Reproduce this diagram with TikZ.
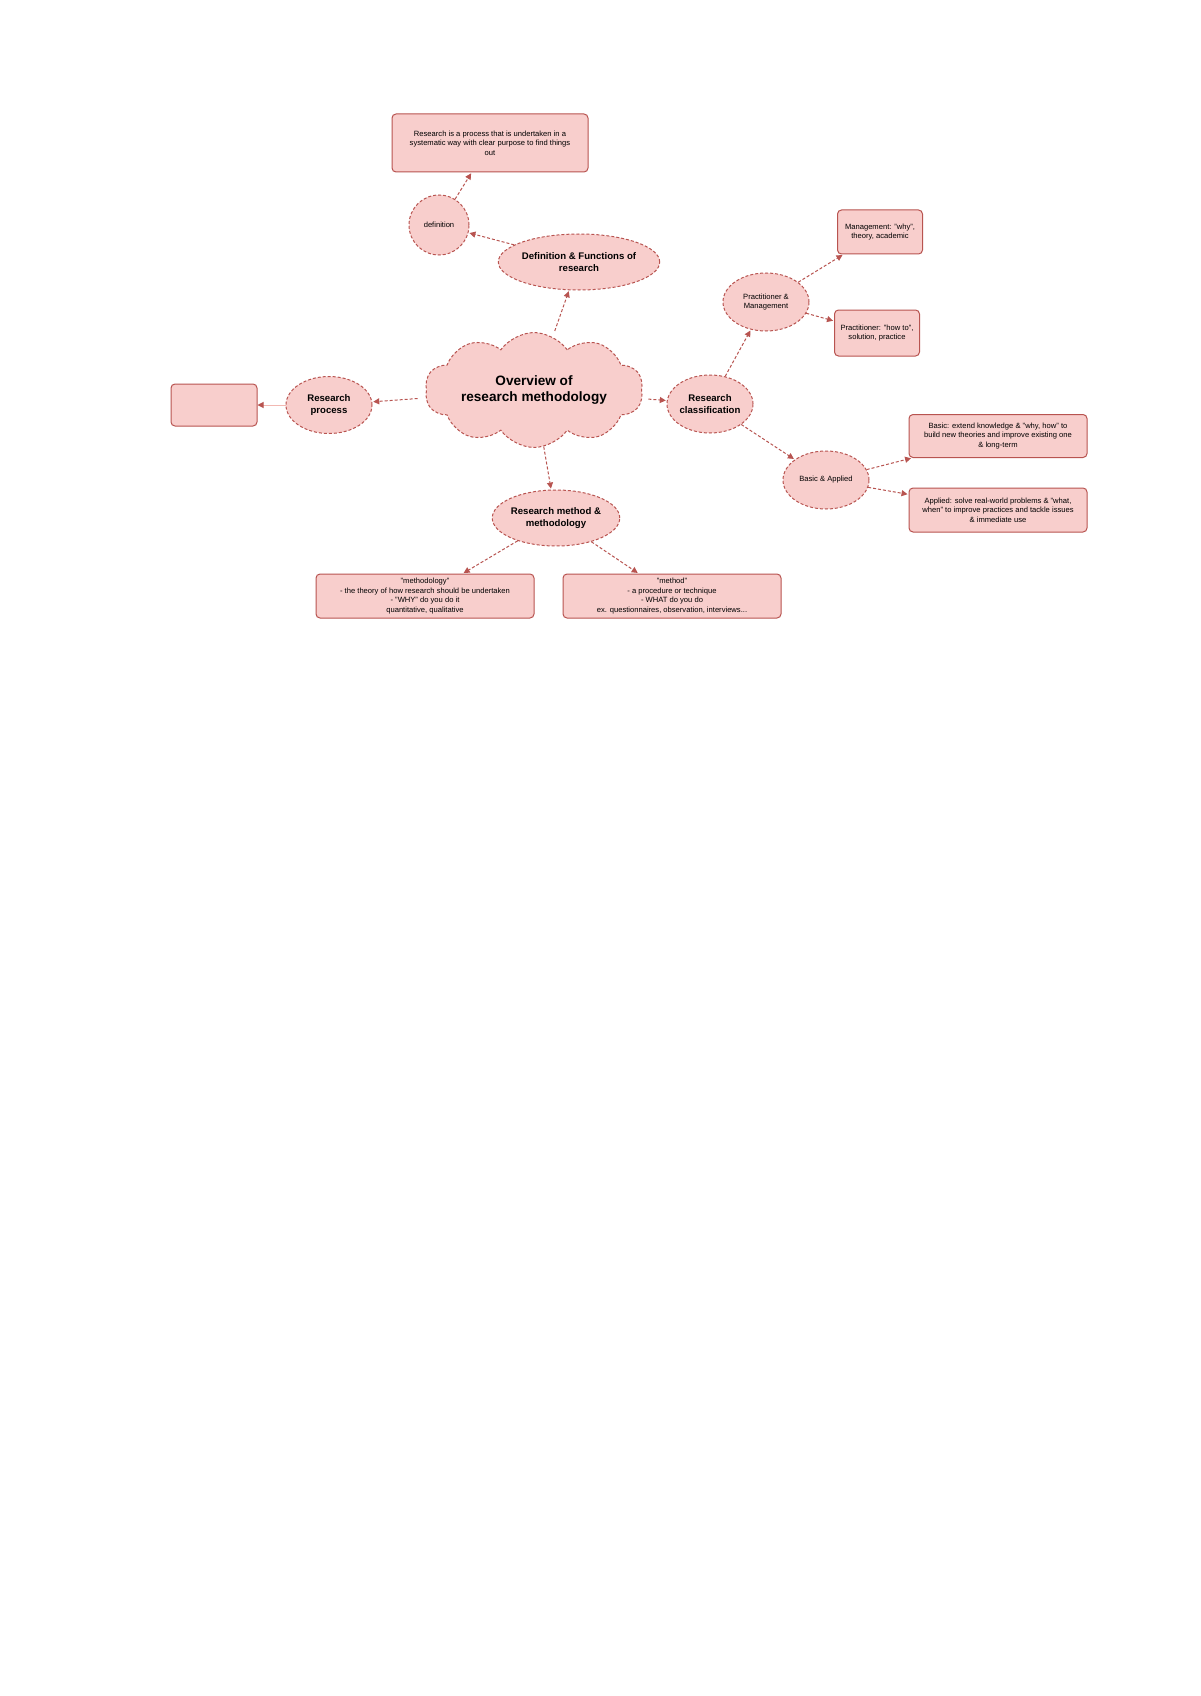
\documentclass[tikz,border=0pt]{standalone}
\usepackage{fontspec}
\setmainfont{Liberation Sans}
\usetikzlibrary{shapes.geometric,shapes.symbols,arrows.meta}
\definecolor{rfill}{HTML}{F8CECC}
\definecolor{rline}{HTML}{B85450}
\definecolor{rfaint}{HTML}{F2B8B2}
\begin{document}
\begin{tikzpicture}[x=0.5pt,y=-0.5pt,
 box/.style={draw=rline,fill=rfill,rounded corners=2pt,line width=0.5pt,align=center,inner sep=1pt,font=\fontsize{3.8}{4.7}\selectfont},
 oval/.style={ellipse,draw=rline,fill=rfill,dash pattern=on 1.5pt off 1pt,line width=0.5pt,align=center,inner sep=0pt},
 bigl/.style={font=\bfseries\fontsize{4.8}{5.9}\selectfont},
 smalll/.style={font=\fontsize{3.8}{4.7}\selectfont},
 link/.style={draw=rline,line width=0.5pt,dash pattern=on 1.5pt off 1pt,-{Triangle[width=3pt,length=3pt]},shorten >=0.5pt},
 faintlink/.style={draw=rfaint,line width=0.5pt,-{Triangle[width=3pt,length=3pt,color=rline]}}
]
\path[use as bounding box,fill=white] (0,0) rectangle (1200,1696);

% nodes
\node[box,minimum width=98pt,minimum height=29pt] (defbox) at (490,143)
  {Research is a process that is undertaken in a\\ systematic way with clear purpose to find things\\ out};
\node[oval,circle,smalll,minimum size=30pt] (defn) at (439,225) {definition};
\node[oval,bigl,minimum width=79pt,minimum height=28pt] (deffun) at (579,262) {Definition \& Functions of\\ research};
\node[cloud,cloud puffs=10,cloud puff arc=110,aspect=2.4,draw=rline,fill=rfill,dash pattern=on 1.5pt off 1pt,line width=0.5pt,
  align=center,inner sep=0pt,minimum width=109pt,minimum height=45pt,font=\bfseries\fontsize{6.8}{8.4}\selectfont] (cloud) at (534,390)
  {Overview of\\ research methodology};
\node[oval,bigl,minimum width=43pt,minimum height=28.5pt] (proc) at (329,405) {Research\\ process};
\node[box,minimum width=43pt,minimum height=21pt] (empty) at (214,405) {};
\node[oval,bigl,minimum width=43pt,minimum height=29pt] (cls) at (710,404) {Research\\ classification};
\node[oval,smalll,minimum width=43pt,minimum height=29pt] (pm) at (766,302) {Practitioner \&\\ Management};
\node[box,minimum width=42.5pt,minimum height=22pt] (mgmt) at (880,232) {Management: "why",\\ theory, academic};
\node[box,minimum width=42.5pt,minimum height=23pt] (prac) at (877,333) {Practitioner: "how to",\\ solution, practice};
\node[oval,smalll,minimum width=43pt,minimum height=29pt] (ba) at (826,480) {Basic \& Applied};
\node[box,minimum width=89pt,minimum height=21.5pt] (basic) at (998,436)
  {Basic: extend knowledge \& "why, how" to\\ build new theories and improve existing one\\ \& long-term};
\node[box,minimum width=89pt,minimum height=22pt] (appl) at (998,510)
  {Applied: solve real-world problems \& "what,\\ when" to improve practices and tackle issues\\ \& immediate use};
\node[oval,bigl,minimum width=54pt,minimum height=28pt] (rm) at (556,518) {Research method \&\\ methodology};
\node[box,minimum width=109pt,minimum height=22pt] (mthy) at (425,596)
  {"methodology"\\ - the theory of how research should be undertaken\\ - "WHY" do you do it\\ quantitative, qualitative};
\node[box,minimum width=109pt,minimum height=22pt] (mthd) at (672,596)
  {"method"\\ - a procedure or technique\\ - WHAT do you do\\ ex. questionnaires, observation, interviews...};

% connectors
\draw[link] (defn) -- (defbox);
\draw[link] (deffun) -- (defn);
\draw[link,shorten <=3pt] (cloud) -- (deffun);
\draw[link,shorten <=4pt] (cloud) -- (proc);
\draw[faintlink] (proc) -- (empty);
\draw[link,shorten <=3pt] (cloud) -- (cls);
\draw[link] (cls) -- (pm);
\draw[link] (pm) -- (mgmt);
\draw[link] (pm) -- (prac);
\draw[link] (cls) -- (ba);
\draw[link] (ba) -- (basic);
\draw[link] (ba) -- (appl);
\draw[link] (cloud) -- (rm);
\draw[link] (rm) -- (mthy);
\draw[link] (rm) -- (mthd);
\end{tikzpicture}
\end{document}
